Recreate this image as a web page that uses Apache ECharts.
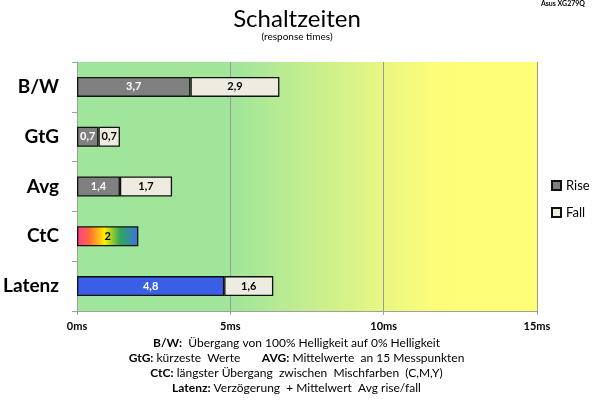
<!DOCTYPE html>
<html><head><meta charset="utf-8">
<script src="https://cdn.jsdelivr.net/npm/echarts@6/dist/echarts.min.js"></script>
<style>html,body{margin:0;padding:0;background:#fff}#c{width:593px;height:407px}</style>
</head><body><div id="c"></div>
<script>
const categories = ['B/W', 'GtG', 'Avg', 'CtC', 'Latenz'];
const riseValues = [3.7, 0.7, 1.4, 2, 4.8];
const fallValues = [2.9, 0.7, 1.7, null, 1.6];
const xTicks = [0, 5, 10, 15];
const seriesNames = ['Rise', 'Fall'];
const notes = [
  ['B/W:', '  Übergang von 100% Helligkeit auf 0% Helligkeit'],
  ['GtG:', ' kürzeste  Werte       ', 'AVG:', ' Mittelwerte  an 15 Messpunkten'],
  ['CtC:', ' längster Übergang  zwischen  Mischfarben  (C,M,Y)'],
  ['Latenz:', ' Verzögerung  + Mittelwert  Avg rise/fall']
];

const FONT = 'Lato';
const chart = echarts.init(document.getElementById('c'));

const ctcGradient = new echarts.graphic.LinearGradient(0, 0, 1, 0, [
  {offset: 0, color: '#ff3d8e'},
  {offset: 0.2, color: '#ff6a3a'},
  {offset: 0.45, color: '#ffee00'},
  {offset: 0.7, color: '#2fa85a'},
  {offset: 1, color: '#3a74e0'}
]);
const bgGradient = new echarts.graphic.LinearGradient(0, 0, 1, 0, [
  {offset: 0, color: '#9fe59b'},
  {offset: 0.34, color: '#a0e59a'},
  {offset: 0.66, color: '#e8f683'},
  {offset: 0.78, color: '#fdfd78'},
  {offset: 1, color: '#ffff77'}
]);

const riseData = riseValues.map((v, i) => {
  const d = {value: v};
  if (categories[i] === 'CtC') { d.itemStyle = {color: ctcGradient}; d.label = {color: '#000'}; }
  if (categories[i] === 'Latenz') { d.itemStyle = {color: '#3a5fe6'}; }
  return d;
});

const graphics = [];
notes.forEach((parts, li) => {
  let txt = '';
  parts.forEach((p, pi) => { txt += '{' + (pi % 2 === 0 ? 'b' : 'n') + '|' + p + '}'; });
  graphics.push({
    type: 'text', left: 'center', top: 337 + li * 15,
    style: {
      text: txt, fill: '#000', font: '12px ' + FONT,
      rich: {
        b: {fontFamily: FONT, fontSize: 12, fontWeight: 'bold', fill: '#000'},
        n: {fontFamily: FONT, fontSize: 12, fill: '#000'}
      }
    }
  });
});
graphics.push({type: 'text', right: 8, top: 0, style: {text: 'Asus XG279Q', font: 'bold 7px ' + FONT, fill: '#000'}});

chart.setOption({
  animation: false,
  textStyle: {fontFamily: FONT},
  title: {
    text: 'Schaltzeiten', subtext: '(response times)', left: 292, top: 2, textAlign: 'center',
    textStyle: {fontFamily: FONT, fontSize: 24, fontWeight: 'normal', color: '#000'},
    subtextStyle: {fontFamily: FONT, fontSize: 10, color: '#000'}, itemGap: 1
  },
  legend: {
    orient: 'vertical', left: 546, top: 174, itemWidth: 9, itemHeight: 9, itemGap: 14, icon: 'rect',
    textStyle: {fontFamily: FONT, fontSize: 13, color: '#000'},
    data: seriesNames
  },
  grid: {left: 77, right: 56, top: 62, bottom: 96, show: true, backgroundColor: bgGradient, borderWidth: 0},
  xAxis: {
    type: 'value', min: xTicks[0], max: xTicks[xTicks.length - 1], interval: 5,
    axisLine: {show: true, lineStyle: {color: '#a0a0a0'}},
    axisTick: {show: true, length: 4, lineStyle: {color: '#a0a0a0'}},
    splitLine: {show: true, lineStyle: {color: '#9a9a9a', width: 1}},
    axisLabel: {formatter: '{value}ms', fontFamily: FONT, fontWeight: 'bold', fontSize: 11, color: '#000', margin: 10,
      alignMinLabel: 'center', alignMaxLabel: 'center'}
  },
  yAxis: {
    type: 'category', data: categories, inverse: true,
    axisLine: {show: true, lineStyle: {color: '#a0a0a0'}},
    axisTick: {show: true, length: 5, lineStyle: {color: '#a0a0a0'}},
    axisLabel: {fontFamily: FONT, fontWeight: 'bold', fontSize: 19, color: '#000', margin: 18}
  },
  series: [
    {
      name: seriesNames[0], type: 'bar', stack: 's', barWidth: 20, data: riseData,
      itemStyle: {color: '#808080', borderColor: '#111', borderWidth: 1.3},
      label: {show: true, position: 'inside', color: '#fff', fontFamily: FONT, fontWeight: 'bold', fontSize: 11,
        formatter: p => String(p.value).replace('.', ',')}
    },
    {
      name: seriesNames[1], type: 'bar', stack: 's', barWidth: 20, data: fallValues,
      itemStyle: {color: '#eeece1', borderColor: '#111', borderWidth: 1.3},
      label: {show: true, position: 'inside', color: '#000', fontFamily: FONT, fontWeight: 'bold', fontSize: 11,
        formatter: p => p.value == null ? '' : String(p.value).replace('.', ',')}
    }
  ],
  graphic: graphics
});
</script></body></html>
